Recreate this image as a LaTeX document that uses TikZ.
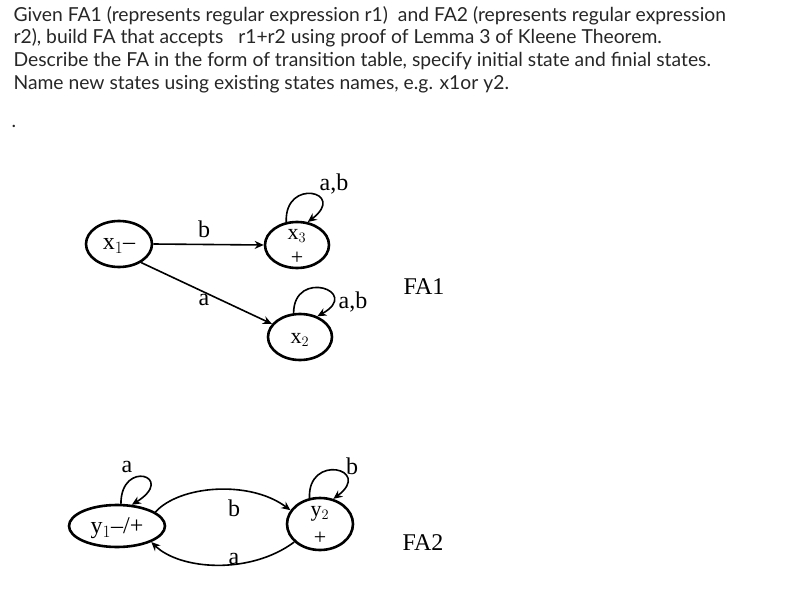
\documentclass[tikz,border=0pt]{standalone}
\usepackage{fontspec}
\setmainfont{Liberation Serif}
\newfontfamily\lato{Lato}
\usetikzlibrary{shapes.geometric,arrows.meta}
\begin{document}
\begin{tikzpicture}[x=1pt,y=-1pt,
  st/.style={ellipse,draw,line width=2.6pt,inner sep=0pt},
  tr/.style={line width=1.6pt,-{Stealth[length=9pt,width=8pt]}},
  lbl/.style={font=\fontsize{24}{24}\selectfont},
  sm/.style={font=\fontsize{22}{22}\selectfont},
  hd/.style={anchor=west,font=\lato\fontsize{19.3}{19.3}\selectfont,text=black!85}]
\useasboundingbox (0,0) rectangle (801,594);
\node[hd] (h1) at (10,16) {Given FA1 (represents regular expression r1)\ \ and FA2 (represents regular expression};
\node[hd] (h2) at (10,38) {r2), build FA that accepts\ \ \ r1+r2 using proof of Lemma 3 of Kleene Theorem.};
\node[hd] (h3) at (10,61) {Describe the FA in the form of transition table, specify initial state and finial states.};
\node[hd] (h4) at (10,84) {Name new states using existing states names, e.g. x1or y2.};
\node[hd] (dot) at (8,126) {.};
% FA1
\node[st,minimum width=66pt,minimum height=46pt] (x1) at (119,244) {};
\node[lbl] (x1t) at (119,246) {x$_1$–};
\node[st,minimum width=64pt,minimum height=46pt] (x3) at (297,245) {};
\node[sm] (x3t) at (297,236) {x$_3$};
\node[sm] (x3p) at (297,258) {+};
\node[st,minimum width=64pt,minimum height=46pt] (x2) at (300,337) {};
\node[sm] (x2t) at (300,340) {x$_2$};
\draw[tr] (x1.east) -- (x3.west);
\node[lbl] (lb1) at (204,229) {b};
\draw[tr] (x1.-40) -- (x2.155);
\node[lbl] (la1) at (204,300) {a};
\draw[tr] (x3.115) .. controls ++(-2,-45) and ++(40,-30) .. (x3.65);
\node[lbl] (l3) at (334,184) {a,b};
\draw[tr] (x2.105) .. controls ++(0,-45) and ++(45,-25) .. (x2.50);
\node[lbl] (l2) at (353,302) {a,b};
\node[lbl] (fa1) at (424,287) {FA1};
% FA2
\node[st,minimum width=96pt,minimum height=42pt] (y1) at (117,526) {};
\node[lbl] (y1t) at (117,528) {y$_1$–/+};
\node[st,minimum width=66pt,minimum height=52pt] (y2) at (320,524) {};
\node[sm] (y2t) at (320,514) {y$_2$};
\node[sm] (y2p) at (320,538) {+};
\draw[tr] (y1.80) .. controls ++(0,-45) and ++(45,-28) .. (y1.55);
\node[lbl] (la) at (127,467) {a};
\draw[tr] (y2.112) .. controls ++(-2,-45) and ++(40,-30) .. (y2.62);
\node[lbl] (lb) at (352,466) {b};
\draw[tr] (y1.20) .. controls (180,485) and (250,480) .. (y2.155);
\node[lbl] (lb2) at (234,508) {b};
\draw[tr] (y2.-145) .. controls (250,575) and (180,570) .. (y1.-25);
\node[lbl] (la2) at (234,559) {a};
\node[lbl] (fa2) at (423,543) {FA2};
\end{tikzpicture}
\end{document}
